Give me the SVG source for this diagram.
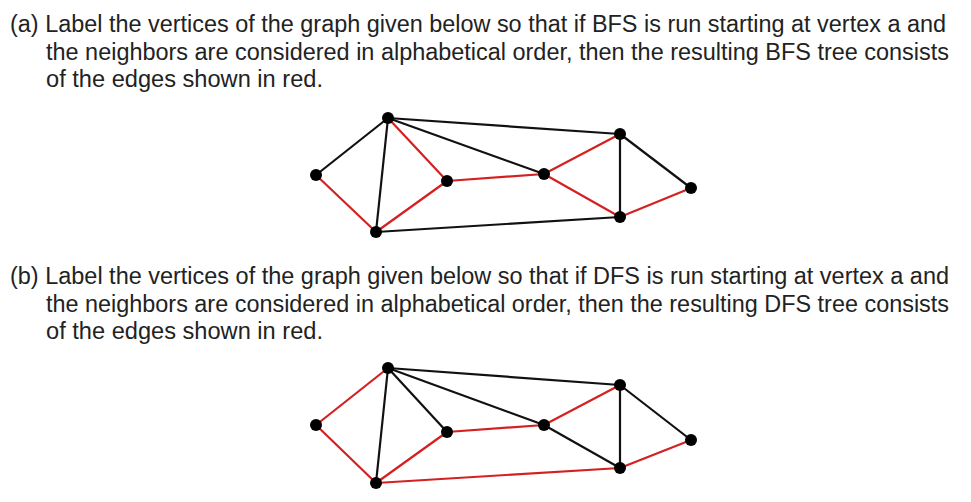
<svg xmlns="http://www.w3.org/2000/svg" width="971" height="502" viewBox="0 0 971 502">
<style>
text{font-family:"Liberation Sans",Arial,sans-serif;font-size:23px;fill:#222}
.k{stroke:#111;stroke-width:2.2}
.r{stroke:#d42020;stroke-width:2.2}
circle{fill:#000}
</style>
<rect width="971" height="502" fill="#fff"/>
<g id="textA">
<text x="10" y="32" textLength="936" lengthAdjust="spacingAndGlyphs">(a) Label the vertices of the graph given below so that if BFS is run starting at vertex a and</text>
<text x="46" y="60" textLength="903" lengthAdjust="spacingAndGlyphs">the neighbors are considered in alphabetical order, then the resulting BFS tree consists</text>
<text x="46" y="87" textLength="277" lengthAdjust="spacingAndGlyphs">of the edges shown in red.</text>
</g>
<g id="textB">
<text x="10" y="284" textLength="939" lengthAdjust="spacingAndGlyphs">(b) Label the vertices of the graph given below so that if DFS is run starting at vertex a and</text>
<text x="46" y="312" textLength="903" lengthAdjust="spacingAndGlyphs">the neighbors are considered in alphabetical order, then the resulting DFS tree consists</text>
<text x="46" y="339" textLength="277" lengthAdjust="spacingAndGlyphs">of the edges shown in red.</text>
</g>
<g id="connectors">
<g id="edgesA">
<line class="k" x1="388" y1="118" x2="316" y2="175"/>
<line class="r" x1="316" y1="175" x2="376" y2="232"/>
<line class="k" x1="388" y1="118" x2="376" y2="232"/>
<line class="r" x1="388" y1="118" x2="447" y2="181"/>
<line class="r" x1="376" y1="232" x2="447" y2="181"/>
<line class="r" x1="447" y1="181" x2="544" y2="174"/>
<line class="k" x1="388" y1="118" x2="544" y2="174"/>
<line class="k" x1="388" y1="118" x2="620" y2="134"/>
<line class="r" x1="544" y1="174" x2="620" y2="134"/>
<line class="r" x1="544" y1="174" x2="620" y2="217"/>
<line class="k" x1="620" y1="134" x2="620" y2="217"/>
<line class="k" x1="620" y1="134" x2="691" y2="188"/>
<line class="r" x1="620" y1="217" x2="691" y2="188"/>
<line class="k" x1="376" y1="232" x2="620" y2="217"/>
</g>
<g id="edgesB">
<line class="r" x1="388" y1="368" x2="316" y2="425"/>
<line class="r" x1="316" y1="425" x2="376" y2="483"/>
<line class="k" x1="388" y1="368" x2="376" y2="483"/>
<line class="k" x1="388" y1="368" x2="447" y2="432"/>
<line class="r" x1="376" y1="483" x2="447" y2="432"/>
<line class="r" x1="447" y1="432" x2="544" y2="425"/>
<line class="k" x1="388" y1="368" x2="544" y2="425"/>
<line class="k" x1="388" y1="368" x2="620" y2="385"/>
<line class="r" x1="544" y1="425" x2="620" y2="385"/>
<line class="k" x1="544" y1="425" x2="620" y2="468"/>
<line class="k" x1="620" y1="385" x2="620" y2="468"/>
<line class="k" x1="620" y1="385" x2="691" y2="440"/>
<line class="r" x1="620" y1="468" x2="691" y2="440"/>
<line class="r" x1="376" y1="483" x2="620" y2="468"/>
</g>
</g>
<g id="nodesA">
<g id="a1"><circle cx="388" cy="118" r="6"/></g>
<g id="a2"><circle cx="316" cy="175" r="6"/></g>
<g id="a3"><circle cx="376" cy="232" r="6"/></g>
<g id="a4"><circle cx="447" cy="181" r="6"/></g>
<g id="a5"><circle cx="544" cy="174" r="6"/></g>
<g id="a6"><circle cx="620" cy="134" r="6"/></g>
<g id="a7"><circle cx="691" cy="188" r="6"/></g>
<g id="a8"><circle cx="620" cy="217" r="6"/></g>
</g>
<g id="nodesB">
<g id="b1"><circle cx="388" cy="368" r="6"/></g>
<g id="b2"><circle cx="316" cy="425" r="6"/></g>
<g id="b3"><circle cx="376" cy="483" r="6"/></g>
<g id="b4"><circle cx="447" cy="432" r="6"/></g>
<g id="b5"><circle cx="544" cy="425" r="6"/></g>
<g id="b6"><circle cx="620" cy="385" r="6"/></g>
<g id="b7"><circle cx="691" cy="440" r="6"/></g>
<g id="b8"><circle cx="620" cy="468" r="6"/></g>
</g>
</svg>
